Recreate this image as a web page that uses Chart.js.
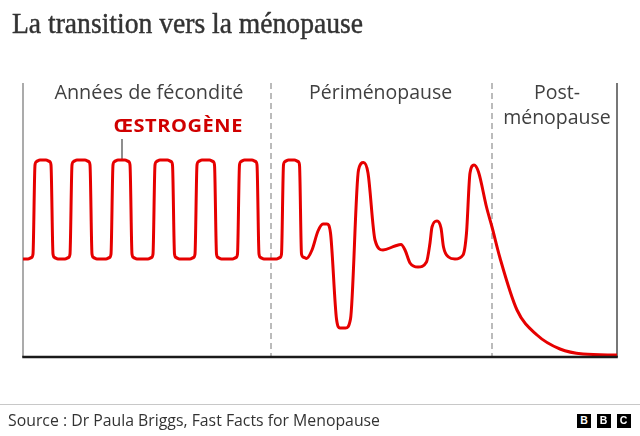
<!DOCTYPE html>
<html lang="fr">
<head>
<meta charset="utf-8">
<script src="https://cdn.jsdelivr.net/npm/chart.js@4.4.1/dist/chart.umd.min.js"></script>
<style>
html,body{margin:0;padding:0;background:#fff;}
body{width:640px;height:436px;position:relative;overflow:hidden;}
#c{position:absolute;left:0;top:0;width:640px;height:436px;}
.txt{position:absolute;white-space:nowrap;line-height:1;font-family:'Open Sans',sans-serif;}
#title{left:12px;top:8px;font-family:'Liberation Serif',serif;font-size:30px;color:#333;transform-origin:0 0;-webkit-text-stroke:0.45px #333;}
.phase{font-size:19.5px;color:#404040;text-align:center;transform-origin:50% 0;}
#l3{line-height:24.5px;}
#estro{font-weight:700;color:#d00000;font-size:18px;letter-spacing:0.5px;transform-origin:50% 0;}
#rule{position:absolute;left:0;top:404px;width:640px;height:1px;background:#c8c8c8;}
#source{left:8px;top:412.6px;font-size:15.4px;color:#333;transform-origin:0 0;}
.bbc{position:absolute;top:414px;width:14px;height:13.5px;background:#000;color:#fff;font:700 10.5px 'Liberation Sans',sans-serif;line-height:13.5px;text-align:center;}
</style>
</head>
<body>
<canvas id="c" width="640" height="436"></canvas>
<div class="txt" id="title">La transition vers la ménopause</div>
<div class="txt phase" id="l1"></div>
<div class="txt phase" id="l2"></div>
<div class="txt phase" id="l3"></div>
<div class="txt" id="estro"></div>
<div id="rule"></div>
<div class="txt" id="source">Source : Dr Paula Briggs, Fast Facts for Menopause</div>
<div class="bbc" style="left:577px">B</div>
<div class="bbc" style="left:596.5px">B</div>
<div class="bbc" style="left:616.5px">C</div>
<script>
// ---- Data (arbitrary units) ----
const phaseLabels = ['Années de fécondité', 'Périménopause', 'Post-\nménopause'];
const seriesLabel = 'ŒSTROGÈNE';
const phaseBounds = [248, 469];           // x where phases change
const leaderX = 99;                        // x of the pulse the label points to
const peakLevel = 197;

// fertile years: six regular cycles
const fertileX = [0,
  5, 8.5, 10, 12, 13.5, 17, 23, 26.5, 28, 30, 31.5, 35,
  42, 45.5, 47, 49, 50.5, 54, 62, 65.5, 67, 69, 70.5, 74,
  83, 86.5, 88, 90, 91.5, 95, 102, 105.5, 107, 109, 110.5, 114,
  125, 128.5, 130, 132, 133.5, 137, 144.5, 148, 149.5, 151.5, 153, 156.5,
  167, 170.5, 172, 174, 175.5, 179, 186.5, 190, 191.5, 193.5, 195, 198.5,
  209.5, 213, 214.5, 216.5, 218, 221.5, 229, 232.5, 234, 236, 237.5, 241];
const fertileY = [98,
  98, 99.5, 103, 192, 195.5, 197, 197, 195.5, 192, 103, 99.5, 98,
  98, 99.5, 103, 192, 195.5, 197, 197, 195.5, 192, 103, 99.5, 98,
  98, 99.5, 103, 192, 195.5, 197, 197, 195.5, 192, 103, 99.5, 98,
  98, 99.5, 103, 192, 195.5, 197, 197, 195.5, 192, 103, 99.5, 98,
  98, 99.5, 103, 192, 195.5, 197, 197, 195.5, 192, 103, 99.5, 98,
  98, 99.5, 103, 192, 195.5, 197, 197, 195.5, 192, 103, 99.5, 98];

// perimenopause: one more regular cycle, then irregular swings
const periX = [253.5, 257, 258.5, 260.5, 262, 265.5, 271.5, 275, 276.5, 278.5, 280.5, 283.5,
  289, 295, 300, 304, 307.5,
  313.5, 317, 322.5, 327.5, 335.5, 340.5, 345, 352, 360, 372, 378, 382, 387, 395, 403.5,
  407, 409, 414, 418, 420.5, 425.5, 432, 440, 443.5, 447, 451, 455.5, 463.5];
const periY = [98, 99.5, 103, 192, 195.5, 197, 197, 195.5, 192, 103, 99.8, 98.5,
  107, 126, 133, 133, 124,
  38, 29, 29, 38, 187, 194.5, 184, 117, 107, 111, 112.5, 107, 94, 90, 95,
  114, 130, 136, 129, 110, 100, 98, 102, 124, 184, 192, 185, 150];

// postmenopause: decline towards zero
const postX = [469, 477, 494, 514, 537, 560, 594];
const postY = [130, 99, 47, 22, 8, 3, 2];

const xRange = [0, 594];
const yRange = [0, 274];

// ---- Build dataset ----
const allX = fertileX.concat(periX, postX);
const allY = fertileY.concat(periY, postY);
const points = allX.map((x, i) => ({x: x, y: allY[i]}));

const framePlugin = {
  id: 'frame',
  beforeDatasetsDraw(chart) {
    const {ctx, chartArea: a, scales: {x, y}} = chart;
    ctx.save();
    ctx.strokeStyle = '#b4b4b4';
    ctx.lineWidth = 1.8;
    ctx.setLineDash([6, 4]);
    phaseBounds.forEach(b => {
      const px = x.getPixelForValue(b);
      ctx.beginPath(); ctx.moveTo(px, a.top); ctx.lineTo(px, a.bottom); ctx.stroke();
    });
    ctx.setLineDash([]);
    ctx.strokeStyle = '#8f8f8f'; ctx.lineWidth = 1.5;
    ctx.beginPath(); ctx.moveTo(a.left, a.top); ctx.lineTo(a.left, a.bottom); ctx.stroke();
    ctx.strokeStyle = '#555'; ctx.lineWidth = 1.6;
    ctx.beginPath(); ctx.moveTo(a.right, a.top); ctx.lineTo(a.right, a.bottom); ctx.stroke();
    ctx.strokeStyle = '#444'; ctx.lineWidth = 1.2;
    const lx = x.getPixelForValue(leaderX);
    ctx.beginPath(); ctx.moveTo(lx, 139); ctx.lineTo(lx, y.getPixelForValue(peakLevel) - 1); ctx.stroke();
    ctx.restore();
  },
  afterDatasetsDraw(chart) {
    const {ctx, chartArea: a} = chart;
    ctx.save();
    ctx.strokeStyle = '#1a1a1a'; ctx.lineWidth = 2.4;
    ctx.beginPath(); ctx.moveTo(a.left - 0.75, a.bottom); ctx.lineTo(a.right + 0.8, a.bottom); ctx.stroke();
    ctx.restore();
  }
};

const chart = new Chart(document.getElementById('c'), {
  type: 'line',
  data: {
    datasets: [{
      label: seriesLabel,
      data: points,
      borderColor: '#e60000',
      borderWidth: 3,
      pointRadius: 0,
      fill: false,
      cubicInterpolationMode: 'monotone'
    }]
  },
  options: {
    responsive: false,
    animation: false,
    devicePixelRatio: 1,
    layout: {padding: {left: 23, right: 23, top: 83, bottom: 79}},
    plugins: {legend: {display: false}, tooltip: {enabled: false}},
    scales: {
      x: {type: 'linear', min: xRange[0], max: xRange[1], display: false},
      y: {min: yRange[0], max: yRange[1], display: false}
    }
  },
  plugins: [framePlugin]
});

// ---- Text layout ----
document.getElementById('l1').textContent = phaseLabels[0];
document.getElementById('l2').textContent = phaseLabels[1];
document.getElementById('l3').innerHTML = phaseLabels[2].split('\n').join('<br>');
document.getElementById('estro').textContent = seriesLabel;

function place(id, cx, top, targetW) {
  const el = document.getElementById(id);
  el.style.top = top + 'px';
  const w = el.getBoundingClientRect().width;
  el.style.left = (cx - w / 2) + 'px';
  if (targetW) el.style.transform = 'scaleX(' + (targetW / w) + ')';
}
function fitLeft(id, targetW) {
  const el = document.getElementById(id);
  const w = el.getBoundingClientRect().width;
  el.style.transform = 'scaleX(' + (targetW / w) + ')';
}
function layoutText() {
  place('l1', 148.5, 81.7, 189);
  place('l2', 380.5, 81.7, 143);
  place('l3', 557, 80.2, null);
  place('estro', 178.7, 116.3, 129.5);
  fitLeft('title', 351);
  fitLeft('source', 372);
}
if (document.fonts && document.fonts.ready) {
  document.fonts.ready.then(layoutText);
} else {
  layoutText();
}
</script>
</body>
</html>
